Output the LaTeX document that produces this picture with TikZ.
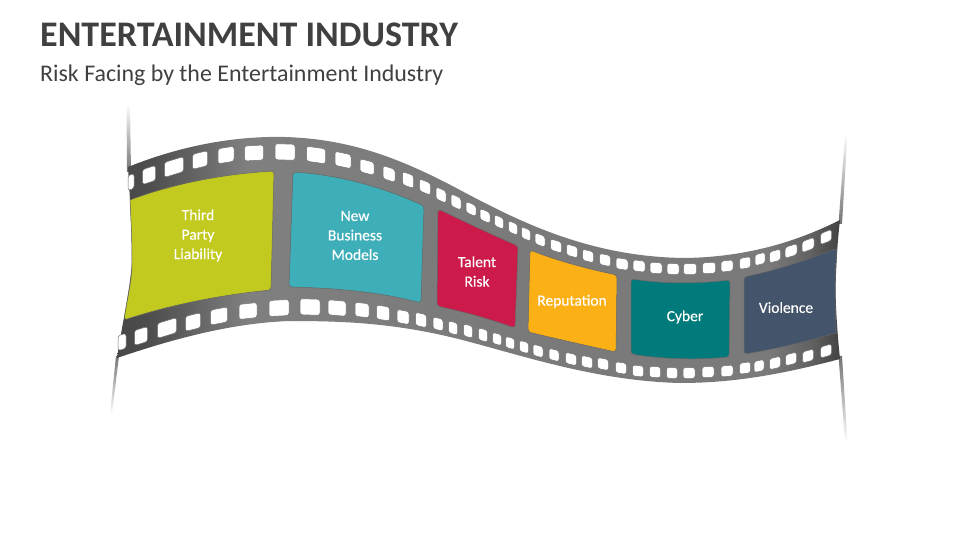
\documentclass[tikz,border=0pt]{standalone}
\usepackage{fontspec}
\setmainfont{Carlito}
\newfontfamily\labelfont[FakeBold = 0.3]{Carlito}
\usetikzlibrary{fadings}
\definecolor{titlegray}{HTML}{404040}
\definecolor{frameolive}{HTML}{C2C91F}
\definecolor{frameteal}{HTML}{3EAEB8}
\definecolor{framered}{HTML}{CC1A4A}
\definecolor{frameamber}{HTML}{FBB116}
\definecolor{framecyan}{HTML}{007A7A}
\definecolor{frameslate}{HTML}{44546A}
\pgfdeclarehorizontalshading{filmshade}{100bp}{
    color(0bp)=(black!72);
    color(25bp)=(black!72);
    color(27bp)=(black!70);
    color(30bp)=(black!62);
    color(34bp)=(black!50);
    color(50bp)=(black!52);
    color(70bp)=(black!52);
    color(73bp)=(black!62);
    color(75bp)=(black!74);
    color(100bp)=(black!74)}
\tikzset{
    filmhole/.style = {draw = black!55, line width = 0.5pt, fill = white, rounded corners = 2.5pt},
    filmframe/.style = {draw = black!60, line width = 0.5pt, rounded corners = 3pt},
    stick/.style = {fill = black!55},
    framelabel/.style = {text = white, align = center, font = \labelfont\fontsize{15.5}{19.5}\selectfont}
}
\begin{document}
\begin{tikzpicture}[x = 1pt, y = -1pt]
        \useasboundingbox (0, 0) rectangle (960, 540);
        \node[anchor = west, text = titlegray, font = \fontsize{36}{40}\selectfont\bfseries, inner sep = 0pt]
            (title) at (40, 35) {ENTERTAINMENT INDUSTRY};
        \node[anchor = west, text = titlegray, font = \fontsize{23.9}{28}\selectfont, inner sep = 0pt]
            (subtitle) at (40, 75) {Risk Facing by the Entertainment Industry};
        % sticks
        \fill[stick, path fading = north]
            (126.5, 104) -- (130, 104) -- (131, 172) -- (127, 172) -- cycle;
        \fill[stick, path fading = south]
            (116, 356) -- (119, 356) -- (112, 414) -- (110, 414) -- cycle;
        \fill[stick, path fading = north]
            (845, 134) -- (847.5, 134) -- (842, 224) -- (838.5, 224) -- cycle;
        \fill[stick, path fading = south]
            (838.5, 356) -- (842, 356) -- (847.5, 442) -- (845, 442) -- cycle;
        % film
        \shade[shading = filmshade]
            (128, 167)
            .. controls (190, 142) and (245, 136) .. (285, 137)
            .. controls (350, 139) and (400, 158) .. (460, 190)
            .. controls (520, 222) and (590, 257) .. (685, 258)
            .. controls (750, 257) and (800, 240) .. (840, 220)
            .. controls (837, 245) and (836, 270) .. (835.5, 290)
            .. controls (836, 315) and (838, 340) .. (840, 359)
            .. controls (790, 372) and (740, 383) .. (680, 383)
            .. controls (600, 381) and (530, 358) .. (470, 342)
            .. controls (400, 323) and (345, 321) .. (290, 321)
            .. controls (230, 323) and (170, 340) .. (117, 358)
            .. controls (122, 325) and (130, 290) .. (132, 262)
            .. controls (132, 230) and (130, 200) .. (128, 167)
            -- cycle;
        % frames
        \draw[filmframe, fill = frameolive]
            (130, 200)
            .. controls (175, 183) and (225, 174) .. (274, 171)
            -- (271, 290)
            .. controls (220, 295) and (170, 305) .. (124, 320)
            [sharp corners] .. controls (128, 295) and (132, 280) .. (132, 262)
            .. controls (132, 240) and (131, 220) .. (130, 200)
            -- cycle;
        \draw[filmframe, fill = frameteal]
            (293, 172)
            .. controls (340, 175) and (385, 188) .. (424, 206)
            -- (421, 303)
            .. controls (380, 292) and (335, 288) .. (289, 287)
            -- cycle;
        \draw[filmframe, fill = framered]
            (438, 209)
            .. controls (465, 222) and (490, 234) .. (518, 246)
            -- (515, 328)
            .. controls (490, 319) and (465, 312) .. (437, 306)
            -- cycle;
        \draw[filmframe, fill = frameamber]
            (530, 250)
            .. controls (558, 261) and (588, 269) .. (617, 275)
            -- (616, 352)
            .. controls (588, 346) and (558, 339) .. (528, 332)
            -- cycle;
        \draw[filmframe, fill = framecyan]
            (631, 279)
            .. controls (665, 284) and (697, 284) .. (730, 280)
            -- (729, 357)
            .. controls (695, 360) and (663, 359) .. (631, 354)
            -- cycle;
        \draw[filmframe, fill = frameslate]
            (744, 277)
            .. controls (777, 270) and (808, 260) .. (837, 248)
            [sharp corners] .. controls (836, 262) and (835, 278) .. (835, 290)
            .. controls (835, 305) and (836, 320) .. (836, 333)
            [rounded corners = 3pt] .. controls (805, 342) and (775, 349) .. (744, 354)
            -- cycle;
        % top perforation
        \foreach \x/\y/\a/\w/\h in {
            131/182/18/6/15, 149/175/18/13/15, 174/167/17/19/15, 200/160/14/15/15,
            226/155/9/16/15, 254/153/3/19/15, 285/152/-2/20/16, 316/155/-8/19/15,
            343/160/-12/16/14, 367/167/-15/14/13, 389/174/-18/12/13, 408/180/-20/11/13,
            425/187/-22/11/12, 441/195/-24/10/12, 456/202/-24/10/12, 471/209/-24/10/11,
            485/216/-24/10/11, 499/222/-23/9/11, 513/228/-23/9/11, 526/234/-22/9/11,
            540/240/-20/10/11, 556/246/-18/11/11, 572/251/-16/11/11, 588/256/-14/11/11,
            605/260/-12/11/11, 622/264/-9/12/11, 639/266/-7/12/11, 656/268/-4/12/11,
            673/269/-2/12/11, 690/269/0/13/11, 709/268/3/13/11, 727/266/6/12/11,
            745/263/10/11/11, 760/259/14/10/11, 775/256/15/11/11, 791/251/18/12/11,
            808/245/20/12/11, 826/237/22/11/11}
            \draw[filmhole, shift = {(\x, \y)}, yslant = {tan(\a)}] (-\w/2, -\h/2) rectangle (\w/2, \h/2);
        % bottom perforation
        \foreach \x/\y/\a/\w/\h in {
            122/342/16/8/15, 141/336/17/13/15, 167/328/17/19/15, 193/322/14/15/15,
            219/316/11/17/15, 248/311/6/18/15, 279/308/3/20/16, 310/307/-2/20/16,
            337/308/-5/18/15, 362/310/-7/14/14, 383/313/-9/13/14, 403/317/-11/12/13,
            421/320/-13/11/13, 438/324/-14/10/12, 453/328/-15/9/12, 468/331/-15/9/12,
            483/335/-15/9/12, 497/339/-15/9/11, 510/343/-15/9/11, 524/347/-15/9/11,
            538/351/-15/10/11, 554/355/-14/10/11, 571/359/-13/11/11, 587/362/-12/11/11,
            603/364/-11/11/11, 621/368/-9/11/11, 638/371/-6/11/11, 655/372/-4/11/11,
            672/373/-2/11/11, 689/373/0/12/11, 708/372/3/12/11, 727/371/5/12/11,
            745/368/8/11/11, 759/366/12/10/11, 775/363/13/11/11, 791/359/14/11/11,
            808/356/15/11/11, 826/351/16/11/11}
            \draw[filmhole, shift = {(\x, \y)}, yslant = {tan(\a)}] (-\w/2, -\h/2) rectangle (\w/2, \h/2);
        % labels
        \node[framelabel] (third) at (198, 235.5) {Third\\Party\\Liability};
        \node[framelabel] (business) at (355, 235.5) {New\\Business\\Models};
        \node[framelabel] (talent) at (477, 271.5) {Talent\\Risk};
        \node[framelabel] (reputation) at (572, 301.5) {Reputation};
        \node[framelabel] (cyber) at (685, 317) {Cyber};
        \node[framelabel] (violence) at (786, 307.5) {Violence};
    \end{tikzpicture}
\end{document}
